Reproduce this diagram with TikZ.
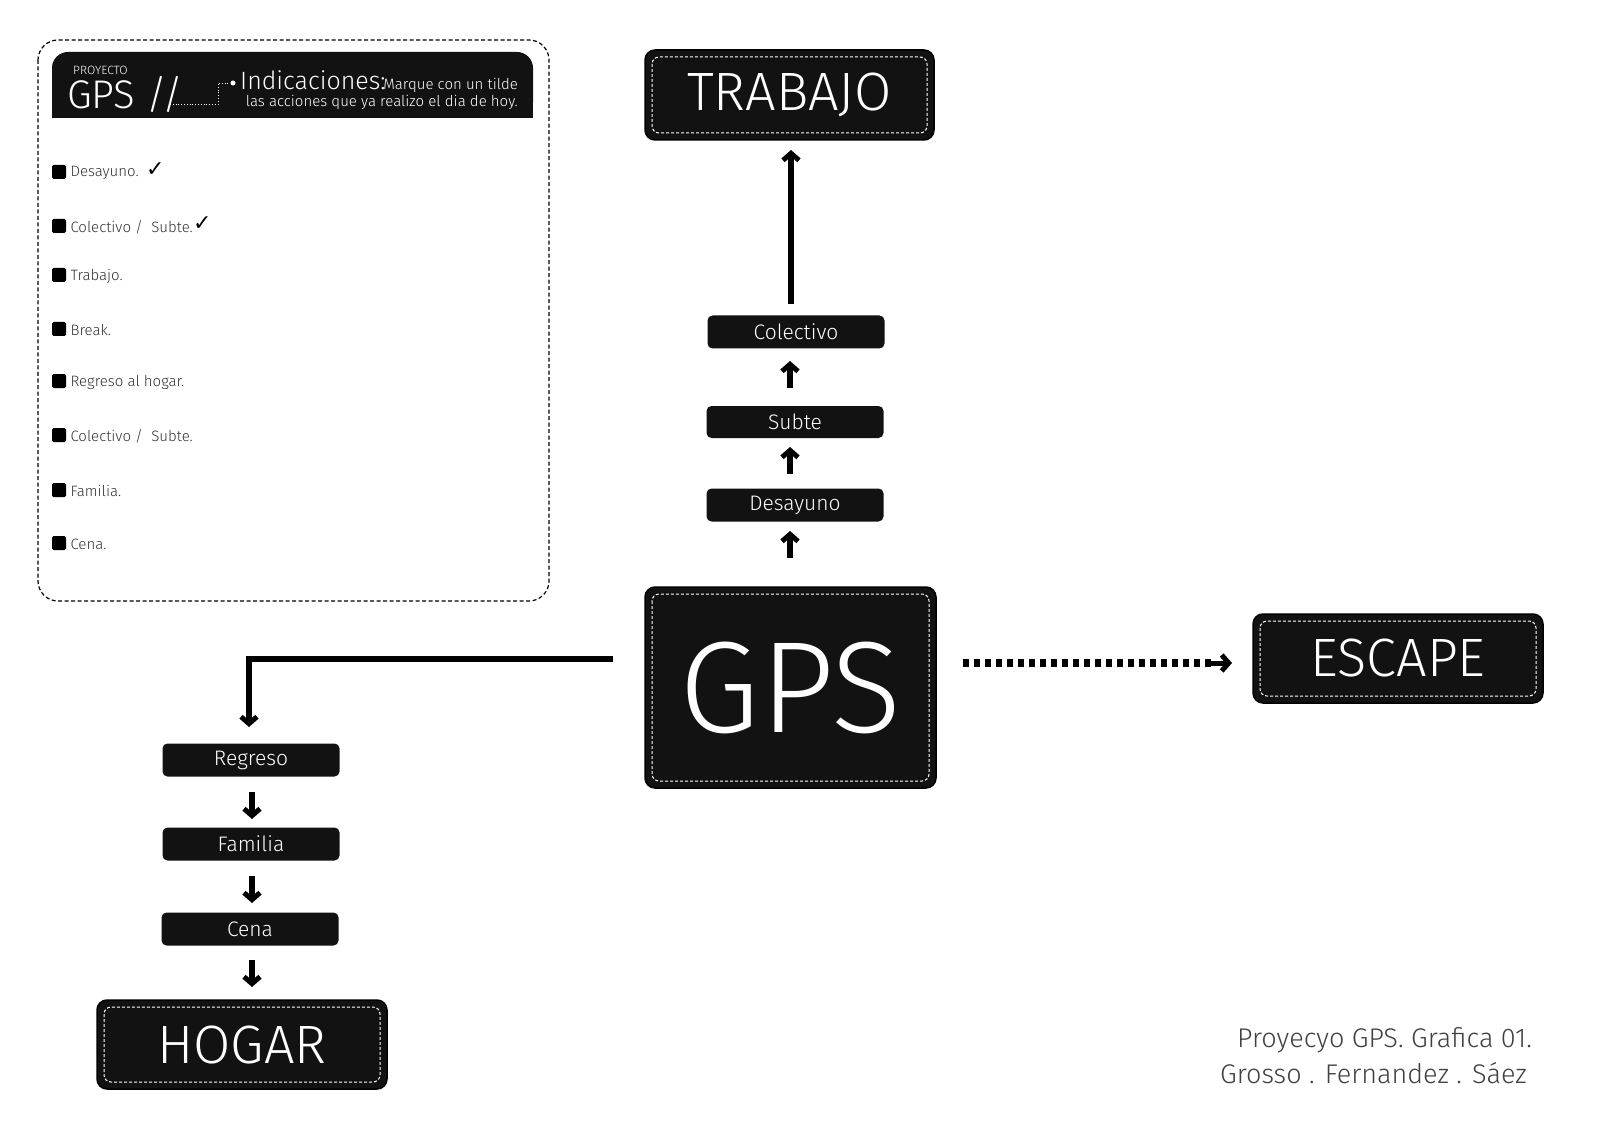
\documentclass[tikz,border=0pt]{standalone}
\usepackage{fontspec}
\setmainfont{Fira Sans Light}
\newfontfamily\symf{DejaVu Sans}
\usetikzlibrary{arrows.meta}
\begin{document}
\begin{tikzpicture}[x=1pt,y=-1pt,
  big/.style={fill=black!93,rounded corners=10pt,line width=1.5pt,draw=black},
  bigin/.style={draw=white,dashed,line width=1pt,dash pattern=on 3pt off 2pt,rounded corners=7pt},
  small/.style={fill=black!93,rounded corners=5pt,text=white,font=\fontsize{21}{24}\selectfont},
  sarr/.style={line width=6pt,-{Straight Barb[length=7pt,width=16pt,line width=5pt]}},
  item/.style={anchor=west,font=\fontsize{15}{18}\selectfont,text=black!80},
  sq/.style={fill=black,rounded corners=1.5pt}]
\useasboundingbox (0,0) rectangle (1600,1131);
% left panel
\draw[dashed,line width=1.2pt,dash pattern=on 4pt off 2.5pt,rounded corners=20pt] (38,40) rectangle (549,601);
\fill[black!93,rounded corners=16pt] (52,118) -- (52,52) -- (533,52) -- (533,118) [sharp corners]-- cycle;
\fill[black!93] (52,100) rectangle (533,118);
\node[anchor=south west,inner sep=0,text=white,font=\fontsize{12}{12}\selectfont] (proy) at (73,75) {PROYECTO};
\node[anchor=base west,inner sep=0,text=white,font=\fontsize{40}{40}\selectfont] (gpsh) at (67,109) {GPS //};
\draw[white,dotted,line width=0.8pt] (170,104) -- (218,104) -- (218,83) -- (230,83);
\fill[white] (233,83) circle (2.5pt);
\node[anchor=base west,inner sep=0,text=white,font=\fontsize{25}{25}\selectfont] (ind) at (240,90) {Indicaciones:};
\node[anchor=base east,inner sep=0,text=white,font=\fontsize{15}{15}\selectfont] (mq) at (518,90) {Marque con un tilde};
\node[anchor=base east,inner sep=0,text=white,font=\fontsize{15}{15}\selectfont] (lq) at (518,107) {las acciones que ya realizo el dia de hoy.};
\foreach \y/\t [count=\i] in {172/Desayuno.,226/Colectivo \slash\ \ Subte.,275/Trabajo.,329/Break.,381/Regreso al hogar.,435/Colectivo \slash\ \ Subte.,490/Familia.,543/Cena.}{
  \fill[sq] (52,\y-7) rectangle (66,\y+7);
  \node[item] (it\i) at (67,\y+1) {\t};
}
\node[anchor=west,inner sep=0,font=\fontsize{22}{22}\selectfont] (ck1) at (146,170) {\symf ✓};
\node[anchor=west,inner sep=0,font=\fontsize{22}{22}\selectfont] (ck2) at (193,224) {\symf ✓};
% big nodes
\foreach \n/\a/\b/\c/\d/\t/\s in {trab/645/50/934/140/TRABAJO/54,gps/645/587/936/788/GPS/130,esc/1253/614/1543/703/ESCAPE/54,hog/97/1000/387/1089/HOGAR/54}{
  \draw[big] (\a,\b) rectangle (\c,\d);
  \draw[bigin] (\a+7,\b+7) rectangle (\c-7,\d-7);
  \node[text=white,font=\fontsize{\s}{\s}\selectfont] (\n) at ({(\a+\c)/2},{(\b+\d)/2}) {\t};
}
% small nodes
\node[small,minimum width=177pt,minimum height=33pt] (col) at (796,332) {Colectivo};
\node[small,minimum width=177pt,minimum height=32pt] (sub) at (795,422) {Subte};
\node[small,minimum width=177pt,minimum height=33pt] (des) at (795,505) {Desayuno};
\node[small,minimum width=177pt,minimum height=33pt] (reg) at (251,760) {Regreso};
\node[small,minimum width=177pt,minimum height=33pt] (fam) at (251,844) {Familia};
\node[small,minimum width=177pt,minimum height=33pt] (cen) at (250,929) {Cena};
% arrows
\coordinate (a0) at (791,304); \coordinate (a1) at (791,150);
\draw[sarr] (a0) -- (a1);
\foreach \y in {388,474,558}{\coordinate (s\y) at (790,\y); \coordinate (e\y) at (790,\y-27); \draw[sarr] (s\y) -- (e\y);}
\foreach \y in {792,876,960}{\coordinate (t\y) at (252,\y); \coordinate (u\y) at (252,\y+27); \draw[sarr] (t\y) -- (u\y);}
\coordinate (l0) at (613,659); \coordinate (l1) at (249,659); \coordinate (l2) at (249,727);
\draw[sarr] (l0) -- (l1) -- (l2);
\coordinate (d0) at (963,663); \coordinate (d1) at (1232,663); \coordinate (dm) at (1212,663); \coordinate (dn) at (1206,663);
\draw[line width=8pt,dash pattern=on 6pt off 5pt] (d0) -- (dm);
\draw[line width=5pt,-{Straight Barb[length=7pt,width=16pt,line width=5pt]}] (dn) -- (d1);
% footer
\node[anchor=base east,inner sep=0,text=black!75,font=\fontsize{27}{27}\selectfont] (f1) at (1532,1047) {Proyecyo GPS. Grafica 01.};
\node[anchor=base east,inner sep=0,text=black!75,font=\fontsize{27}{27}\selectfont] (f2) at (1527,1083) {Grosso . Fernandez . Sáez};
\end{tikzpicture}
\end{document}
